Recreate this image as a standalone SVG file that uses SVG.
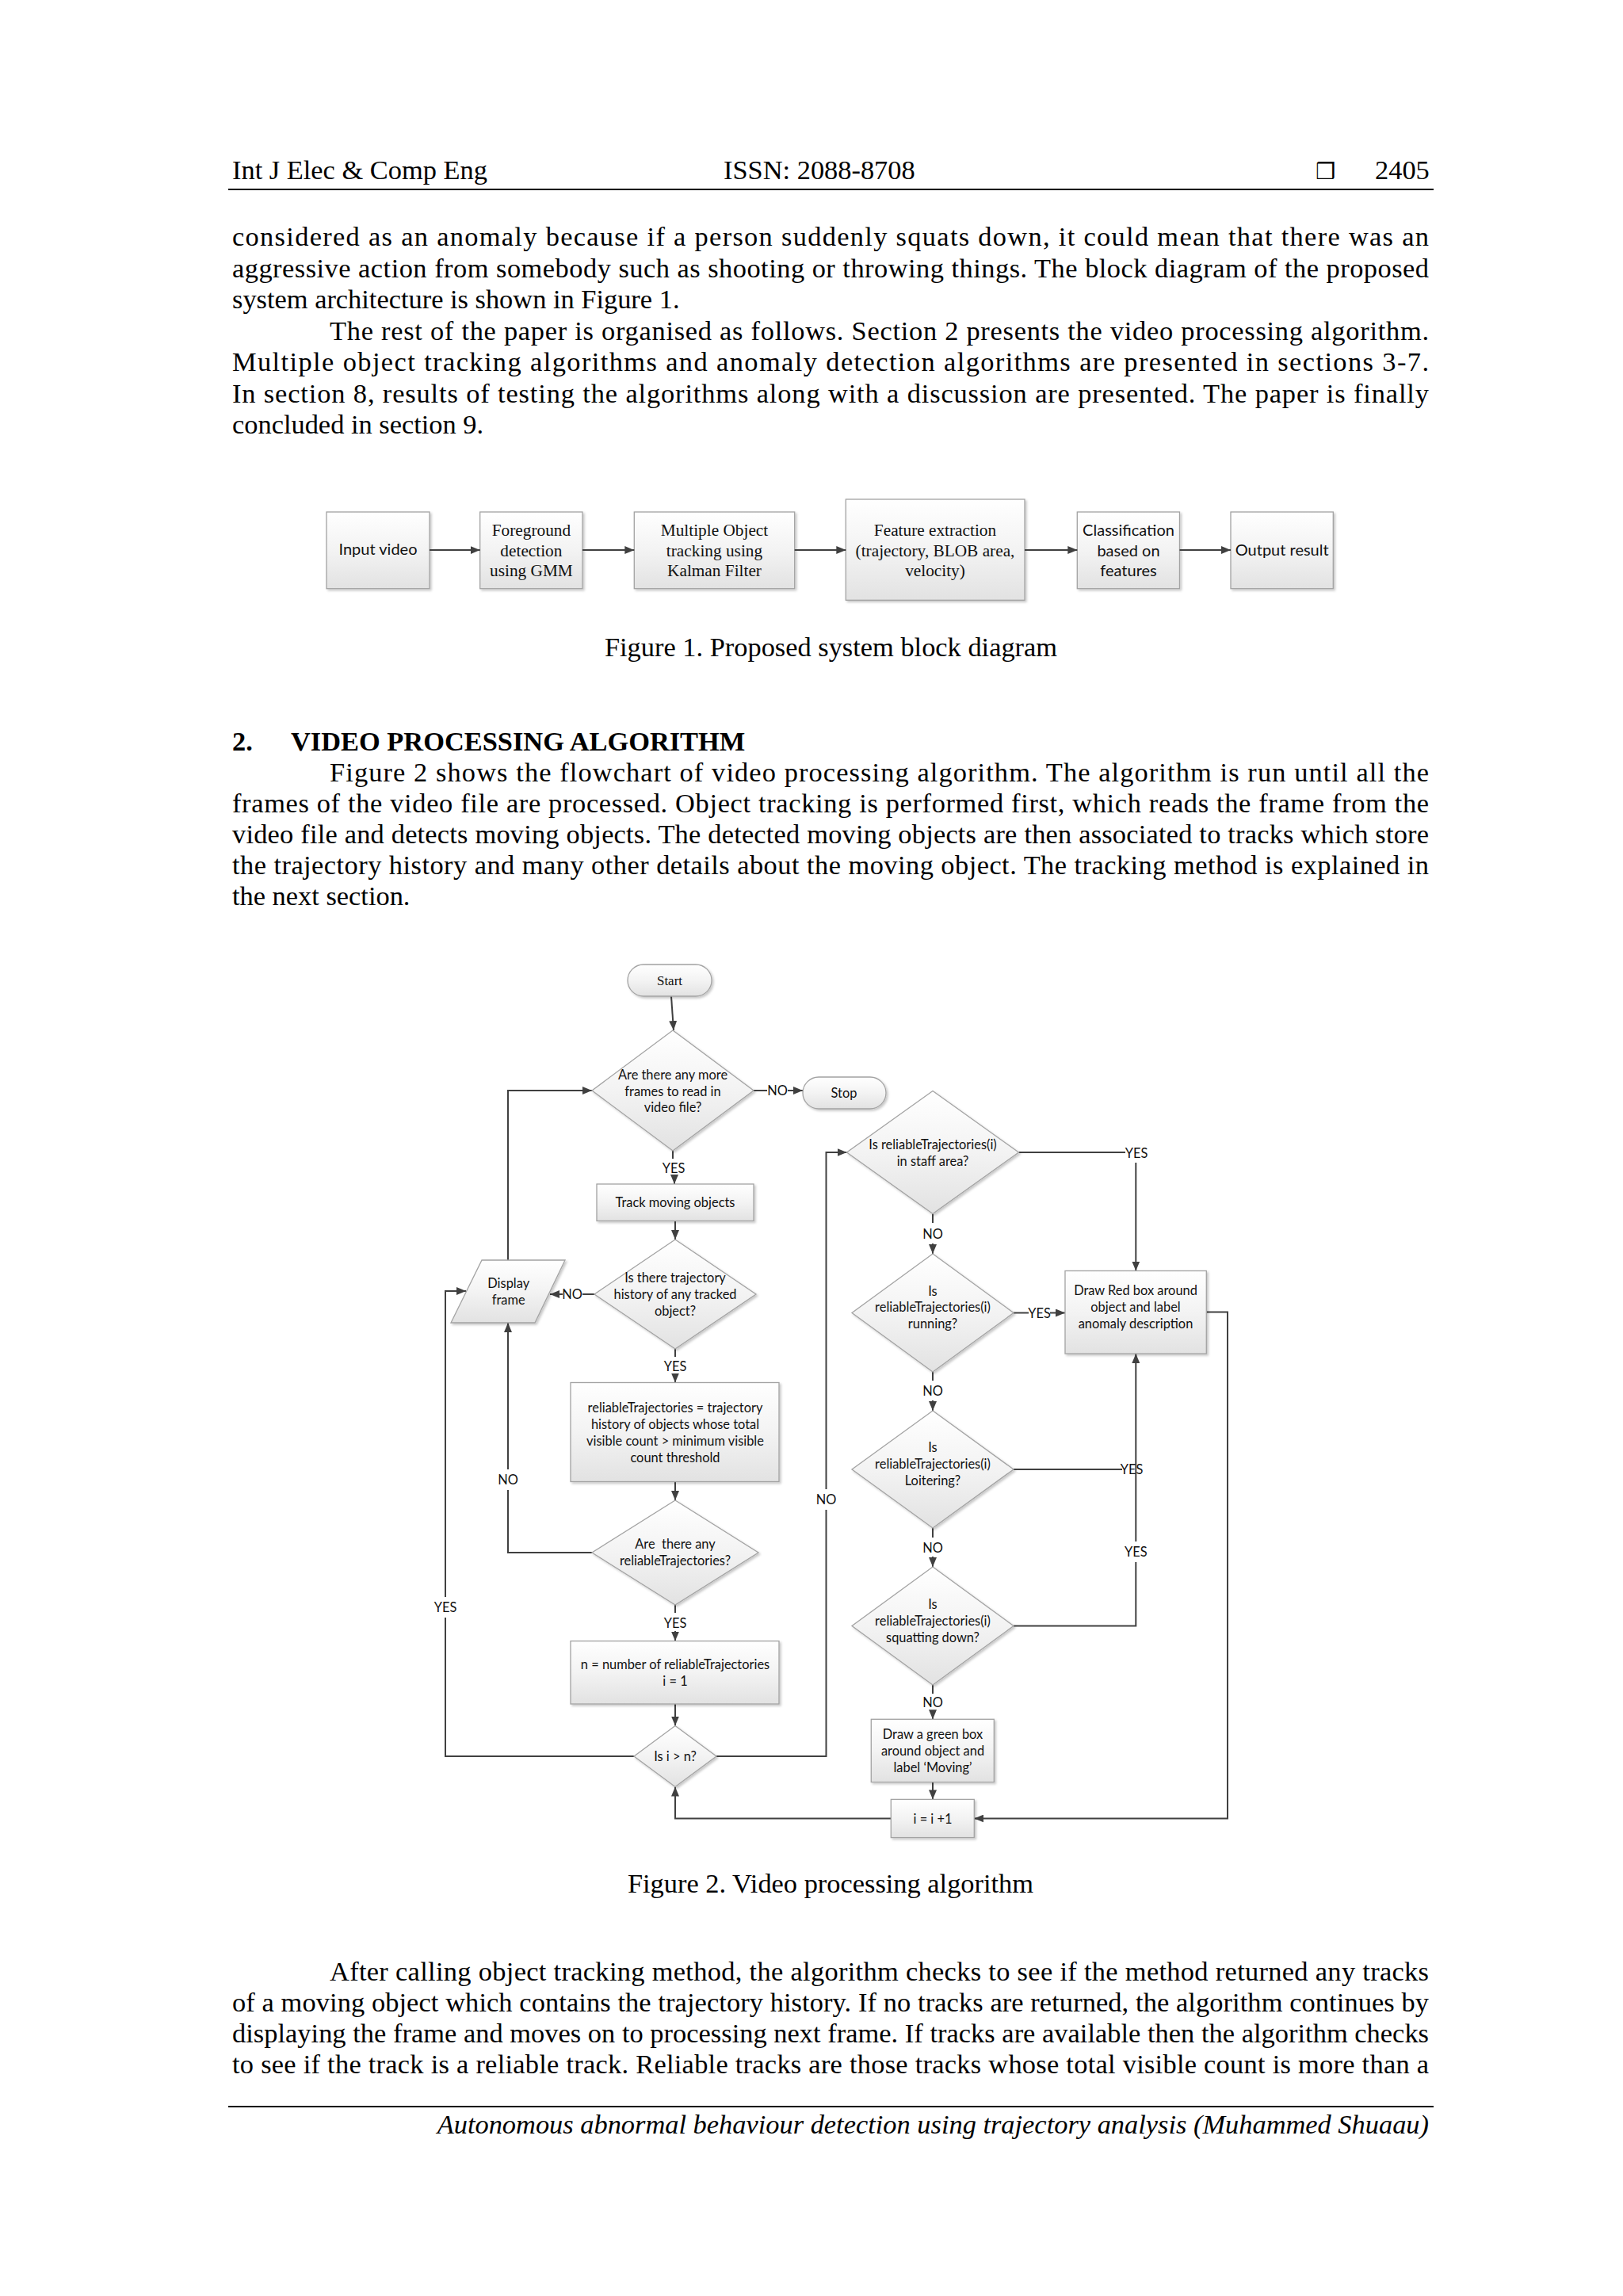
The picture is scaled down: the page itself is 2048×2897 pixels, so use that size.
<svg xmlns="http://www.w3.org/2000/svg" width="2048" height="2897" viewBox="0 0 2048 2897">
<defs>
<style>
.b{font-family:"Liberation Serif","Times New Roman",serif;font-size:34.4px;fill:#000}
.bb{font-family:"Liberation Serif","Times New Roman",serif;font-size:34.4px;font-weight:bold;fill:#000}
.bi{font-family:"Liberation Serif","Times New Roman",serif;font-size:34.4px;font-style:italic;fill:#000}
.cap{font-family:"Liberation Serif","Times New Roman",serif;font-size:34.4px;fill:#000;text-anchor:middle}
.f1s{font-family:"Liberation Serif","Times New Roman",serif;font-size:21.3px;fill:#111;text-anchor:middle}
.f1n{font-family:Lato,"Liberation Sans",sans-serif;font-size:20px;fill:#111;text-anchor:middle}
.fc{font-family:Lato,"Liberation Sans",sans-serif;font-size:16.4px;fill:#111;text-anchor:middle}
.fcs{font-family:"Liberation Serif","Times New Roman",serif;font-size:17px;fill:#111;text-anchor:middle}
.node{fill:url(#g);stroke:#a3a3a3;stroke-width:1.3;filter:url(#sh)}
.conn{fill:none;stroke:#404040;stroke-width:2}
.arr{fill:none;stroke:#404040;stroke-width:2;marker-end:url(#a)}
.rule{stroke:#000;stroke-width:2.2}
</style>
<linearGradient id="g" x1="0" y1="0" x2="0" y2="1">
<stop offset="0" stop-color="#ffffff"/>
<stop offset="0.5" stop-color="#f3f3f3"/>
<stop offset="1" stop-color="#e2e2e2"/>
</linearGradient>
<filter id="sh" x="-10%" y="-10%" width="125%" height="125%">
<feDropShadow dx="2" dy="2" stdDeviation="1.5" flood-color="#000" flood-opacity="0.22"/>
</filter>
<marker id="a" viewBox="0 0 12 10" markerWidth="12" markerHeight="10" markerUnits="userSpaceOnUse" refX="12" refY="5" orient="auto">
<path d="M0,0 L12,5 L0,10 z" fill="#404040"/>
</marker>
</defs>
<rect width="2048" height="2897" fill="#fff"/>

<!-- header -->
<g id="header">
<text class="b" x="293" y="226">Int J Elec &amp; Comp Eng</text>
<text class="b" x="913" y="226">ISSN: 2088-8708</text>
<text x="1660" y="226" style="font-family:'DejaVu Sans',sans-serif;font-size:28px;fill:#000">❒</text>
<text class="b" x="1735" y="226">2405</text>
<line class="rule" x1="288" y1="239" x2="1809" y2="239"/>
</g>

<!-- body text top -->
<g id="body1">
<text class="b" x="293" y="310" textLength="1510" lengthAdjust="spacing">considered as an anomaly because if a person suddenly squats down, it could mean that there was an</text>
<text class="b" x="293" y="349.5" textLength="1510" lengthAdjust="spacing">aggressive action from somebody such as shooting or throwing things. The block diagram of the proposed</text>
<text class="b" x="293" y="389">system architecture is shown in Figure 1.</text>
<text class="b" x="416" y="428.5" textLength="1387" lengthAdjust="spacing">The rest of the paper is organised as follows. Section 2 presents the video processing algorithm.</text>
<text class="b" x="293" y="468" textLength="1510" lengthAdjust="spacing">Multiple object tracking algorithms and anomaly detection algorithms are presented in sections 3-7.</text>
<text class="b" x="293" y="507.5" textLength="1510" lengthAdjust="spacing">In section 8, results of testing the algorithms along with a discussion are presented. The paper is finally</text>
<text class="b" x="293" y="547">concluded in section 9.</text>
</g>

<!-- Figure 1 -->
<g id="fig1">
<g id="f1-input"><rect class="node" x="412" y="646" width="130" height="96.7"/><text class="f1n" x="477" y="700">Input video</text></g>
<g id="f1-fg"><rect class="node" x="605.7" y="646" width="129.3" height="96.7"/>
<text class="f1s" x="670.4" y="676">Foreground</text><text class="f1s" x="670.4" y="701.5">detection</text><text class="f1s" x="670.4" y="727">using GMM</text></g>
<g id="f1-mot"><rect class="node" x="800.3" y="646" width="202.4" height="96.7"/>
<text class="f1s" x="901.5" y="676">Multiple Object</text><text class="f1s" x="901.5" y="701.5">tracking using</text><text class="f1s" x="901.5" y="727">Kalman Filter</text></g>
<g id="f1-fe"><rect class="node" x="1067.3" y="630" width="225.7" height="127.3"/>
<text class="f1s" x="1180" y="676">Feature extraction</text><text class="f1s" x="1180" y="701.5">(trajectory, BLOB area,</text><text class="f1s" x="1180" y="727">velocity)</text></g>
<g id="f1-cl"><rect class="node" x="1359.3" y="646" width="129.2" height="96.7"/>
<text class="f1n" x="1424" y="676">Classification</text><text class="f1n" x="1424" y="701.5">based on</text><text class="f1n" x="1424" y="727">features</text></g>
<g id="f1-out"><rect class="node" x="1553" y="646" width="129.3" height="96.7"/><text class="f1n" x="1617.7" y="701">Output result</text></g>
<g id="f1-connectors">
<line class="arr" x1="542" y1="694" x2="605.7" y2="694"/>
<line class="arr" x1="735" y1="694" x2="800.3" y2="694"/>
<line class="arr" x1="1002.7" y1="694" x2="1067.3" y2="694"/>
<line class="arr" x1="1293" y1="694" x2="1359.3" y2="694"/>
<line class="arr" x1="1488.5" y1="694" x2="1553" y2="694"/>
</g>
<text class="cap" x="1048.5" y="828">Figure 1. Proposed system block diagram</text>
</g>

<!-- Section 2 -->
<g id="section2">
<text class="bb" x="293" y="946.5">2.</text>
<text class="bb" x="367" y="946.5">VIDEO PROCESSING ALGORITHM</text>
<text class="b" x="416" y="985.5" textLength="1387" lengthAdjust="spacing">Figure 2 shows the flowchart of video processing algorithm. The algorithm is run until all the</text>
<text class="b" x="293" y="1024.7" textLength="1510" lengthAdjust="spacing">frames of the video file are processed. Object tracking is performed first, which reads the frame from the</text>
<text class="b" x="293" y="1063.9" textLength="1510" lengthAdjust="spacing">video file and detects moving objects. The detected moving objects are then associated to tracks which store</text>
<text class="b" x="293" y="1103.1" textLength="1510" lengthAdjust="spacing">the trajectory history and many other details about the moving object. The tracking method is explained in</text>
<text class="b" x="293" y="1142.3">the next section.</text>
</g>

<!-- Flowchart connectors -->
<g id="connectors">
<line class="arr" x1="847" y1="1257" x2="850" y2="1300"/>
<line class="conn" x1="951" y1="1376" x2="968" y2="1376"/>
<line class="arr" x1="994" y1="1376" x2="1013" y2="1376"/>
<line class="conn" x1="849" y1="1452" x2="849" y2="1462"/>
<line class="arr" x1="851" y1="1484" x2="851" y2="1494"/>
<line class="arr" x1="852" y1="1540.5" x2="852" y2="1564"/>
<line class="conn" x1="750" y1="1633" x2="735" y2="1633"/>
<line class="arr" x1="710" y1="1633" x2="694" y2="1633"/>
<polyline class="arr" points="641,1590 641,1376 747,1376"/>
<line class="conn" x1="852" y1="1702" x2="852" y2="1712"/>
<line class="arr" x1="852" y1="1734" x2="852" y2="1744.5"/>
<line class="arr" x1="852" y1="1869.5" x2="852" y2="1893"/>
<polyline class="conn" points="747,1959 641,1959 641,1880"/>
<line class="arr" x1="641" y1="1854" x2="641" y2="1669"/>
<polyline class="conn" points="800,2216 562,2216 562,2041"/>
<polyline class="arr" points="562,2015 562,1629 588,1629"/>
<line class="conn" x1="852" y1="2025" x2="852" y2="2035"/>
<line class="arr" x1="852" y1="2058" x2="852" y2="2070.6"/>
<line class="arr" x1="852" y1="2150" x2="852" y2="2177.5"/>
<polyline class="conn" points="904,2216 1042.5,2216 1042.5,1905"/>
<polyline class="arr" points="1042.5,1879 1042.5,1454 1068.5,1454"/>
<line class="conn" x1="1285.5" y1="1454" x2="1420" y2="1454"/>
<line class="arr" x1="1433.3" y1="1467" x2="1433.3" y2="1603.5"/>
<line class="conn" x1="1177" y1="1531.5" x2="1177" y2="1543"/>
<line class="arr" x1="1177" y1="1569" x2="1177" y2="1582"/>
<line class="conn" x1="1279" y1="1656.5" x2="1298" y2="1656.5"/>
<line class="arr" x1="1325" y1="1656.5" x2="1344" y2="1656.5"/>
<line class="conn" x1="1177" y1="1731" x2="1177" y2="1742"/>
<line class="arr" x1="1177" y1="1767" x2="1177" y2="1780"/>
<line class="conn" x1="1279" y1="1854" x2="1416" y2="1854"/>
<line class="conn" x1="1177" y1="1928" x2="1177" y2="1940"/>
<line class="arr" x1="1177" y1="1964" x2="1177" y2="1977"/>
<polyline class="conn" points="1279,2051.5 1433.3,2051.5 1433.3,1971"/>
<line class="arr" x1="1433.3" y1="1945" x2="1433.3" y2="1708"/>
<line class="conn" x1="1177" y1="2126" x2="1177" y2="2137"/>
<line class="arr" x1="1177" y1="2159" x2="1177" y2="2169.3"/>
<line class="arr" x1="1177" y1="2248.6" x2="1177" y2="2270.4"/>
<polyline class="arr" points="1522.3,1655.5 1549,1655.5 1549,2294.5 1229.3,2294.5"/>
<polyline class="arr" points="1124.3,2294.5 852,2294.5 852,2254.5"/>
<text class="fc" x="981" y="1382">NO</text>
<text class="fc" x="850" y="1480">YES</text>
<text class="fc" x="722" y="1639">NO</text>
<text class="fc" x="852" y="1730">YES</text>
<text class="fc" x="641" y="1872.6">NO</text>
<text class="fc" x="562" y="2033.7">YES</text>
<text class="fc" x="852" y="2053.6">YES</text>
<text class="fc" x="1042.5" y="1897.5">NO</text>
<text class="fc" x="1434" y="1460.7">YES</text>
<text class="fc" x="1177" y="1562.5">NO</text>
<text class="fc" x="1311.5" y="1662.5">YES</text>
<text class="fc" x="1177" y="1761">NO</text>
<text class="fc" x="1428" y="1860">YES</text>
<text class="fc" x="1177" y="1958.7">NO</text>
<text class="fc" x="1433.3" y="1963.7">YES</text>
<text class="fc" x="1177" y="2154">NO</text>
</g>

<!-- Flowchart nodes -->
<g id="n-start"><rect class="node" x="792" y="1217" width="106" height="40" rx="20"/><text class="fcs" x="845" y="1243">Start</text></g>
<g id="n-more"><polygon class="node" points="849,1300 951,1376 849,1452 747,1376"/>
<text class="fc" x="849" y="1361.5">Are there any more</text><text class="fc" x="849" y="1382.5">frames to read in</text><text class="fc" x="849" y="1403">video file?</text></g>
<g id="n-stop"><rect class="node" x="1013" y="1359" width="105" height="40" rx="20"/><text class="fc" x="1065" y="1385">Stop</text></g>
<g id="n-track"><rect class="node" x="753" y="1494" width="198" height="46.5"/><text class="fc" x="852" y="1523">Track moving objects</text></g>
<g id="n-hist"><polygon class="node" points="852,1564 954,1633 852,1702 750,1633"/>
<text class="fc" x="852" y="1618">Is there trajectory</text><text class="fc" x="852" y="1638.5">history of any tracked</text><text class="fc" x="852" y="1659.6">object?</text></g>
<g id="n-display"><polygon class="node" points="608,1590 713,1590 675,1669 569,1669"/>
<text class="fc" x="641.7" y="1625">Display</text><text class="fc" x="641.7" y="1646">frame</text></g>
<g id="n-reliable"><rect class="node" x="720" y="1744.5" width="263" height="125"/>
<text class="fc" x="852" y="1782">reliableTrajectories = trajectory</text>
<text class="fc" x="852" y="1803">history of objects whose total</text>
<text class="fc" x="852" y="1824">visible count &gt; minimum visible</text>
<text class="fc" x="852" y="1845">count threshold</text></g>
<g id="n-any"><polygon class="node" points="852,1893 957,1959 852,2025 747,1959"/>
<text class="fc" x="852" y="1954" style="white-space:pre">Are  there any</text><text class="fc" x="852" y="1975">reliableTrajectories?</text></g>
<g id="n-count"><rect class="node" x="720" y="2070.6" width="263" height="79.4"/>
<text class="fc" x="852" y="2106">n = number of reliableTrajectories</text><text class="fc" x="852" y="2127">i = 1</text></g>
<g id="n-ign"><polygon class="node" points="852,2177.5 904,2216 852,2254.5 800,2216"/>
<text class="fc" x="852" y="2222">Is i &gt; n?</text></g>
<g id="n-staff"><polygon class="node" points="1177,1376.5 1285.5,1454 1177,1531.5 1068.5,1454"/>
<text class="fc" x="1177" y="1449.5">Is reliableTrajectories(i)</text><text class="fc" x="1177" y="1470.5">in staff area?</text></g>
<g id="n-running"><polygon class="node" points="1177,1582 1279,1656.5 1177,1731 1075,1656.5"/>
<text class="fc" x="1177" y="1635">Is</text><text class="fc" x="1177" y="1655">reliableTrajectories(i)</text><text class="fc" x="1177" y="1676">running?</text></g>
<g id="n-red"><rect class="node" x="1344" y="1603.5" width="178.3" height="104.5"/>
<text class="fc" x="1433" y="1634">Draw Red box around</text><text class="fc" x="1433" y="1655">object and label</text><text class="fc" x="1433" y="1676">anomaly description</text></g>
<g id="n-loiter"><polygon class="node" points="1177,1780 1279,1854 1177,1928 1075,1854"/>
<text class="fc" x="1177" y="1831.7">Is</text><text class="fc" x="1177" y="1852.7">reliableTrajectories(i)</text><text class="fc" x="1177" y="1873.8">Loitering?</text></g>
<g id="n-squat"><polygon class="node" points="1177,1977 1279,2051.5 1177,2126 1075,2051.5"/>
<text class="fc" x="1177" y="2030">Is</text><text class="fc" x="1177" y="2050.6">reliableTrajectories(i)</text><text class="fc" x="1177" y="2071.6">squatting down?</text></g>
<g id="n-green"><rect class="node" x="1099.3" y="2169.3" width="155" height="79.3"/>
<text class="fc" x="1177" y="2194">Draw a green box</text><text class="fc" x="1177" y="2215">around object and</text><text class="fc" x="1177" y="2236">label ‘Moving’</text></g>
<g id="n-inc"><rect class="node" x="1124.3" y="2270.4" width="105" height="48.2"/><text class="fc" x="1177" y="2300.5">i = i +1</text></g>

<!-- bottom text -->
<g id="body2">
<text class="cap" x="1048" y="2388">Figure 2. Video processing algorithm</text>
<text class="b" x="416" y="2498.5" textLength="1387" lengthAdjust="spacing">After calling object tracking method, the algorithm checks to see if the method returned any tracks</text>
<text class="b" x="293" y="2537.5" textLength="1510" lengthAdjust="spacing">of a moving object which contains the trajectory history. If no tracks are returned, the algorithm continues by</text>
<text class="b" x="293" y="2576.5" textLength="1510" lengthAdjust="spacing">displaying the frame and moves on to processing next frame. If tracks are available then the algorithm checks</text>
<text class="b" x="293" y="2615.5" textLength="1510" lengthAdjust="spacing">to see if the track is a reliable track. Reliable tracks are those tracks whose total visible count is more than a</text>
<line class="rule" x1="288" y1="2658" x2="1809" y2="2658"/>
<text class="bi" x="1803" y="2692" text-anchor="end">Autonomous abnormal behaviour detection using trajectory analysis (Muhammed Shuaau)</text>
</g>
</svg>
